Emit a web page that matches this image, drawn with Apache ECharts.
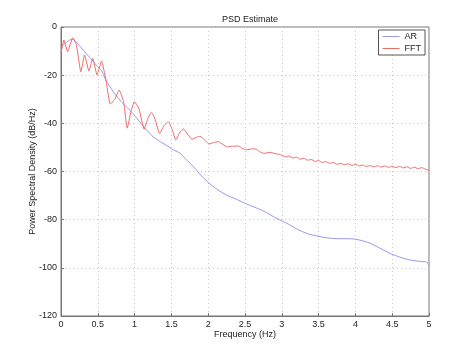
<!DOCTYPE html>
<html><head><meta charset="utf-8">
<script src="https://cdn.jsdelivr.net/npm/echarts@6/dist/echarts.min.js"></script>
<style>html,body{margin:0;padding:0;background:#fff}#c{width:474px;height:356px}</style>
</head><body><div id="c"></div>
<script>
const titleText = 'PSD Estimate';
const xLabel = 'Frequency (Hz)';
const yLabel = 'Power Spectral Density (dB/Hz)';
const seriesNames = ['AR', 'FFT'];

const arFreq = [0,0.05,0.1,0.15,0.2,0.3,0.4,0.5,0.55,0.6,0.68,0.75,0.82,0.9,0.98,1.06,1.14,1.25,1.35,1.5,1.62,1.7,1.8,1.9,2.0,2.1,2.25,2.39,2.52,2.66,2.79,2.9,3.0,3.1,3.21,3.35,3.48,3.6,3.75,3.9,4.0,4.1,4.2,4.3,4.47,4.6,4.75,4.9,4.97,5.0];
const arDb = [-8.5,-7,-5.8,-5.0,-6.0,-9.5,-13,-16.5,-18,-21.5,-25.5,-28.5,-31,-33.5,-36,-39,-42,-45.5,-47.6,-50.5,-52.5,-55,-58,-61.5,-64.5,-67,-69.8,-71.6,-73.5,-75.2,-77,-79,-80.5,-82,-84,-85.8,-86.8,-87.5,-87.9,-87.9,-88.1,-88.8,-89.8,-91.3,-94,-95.5,-96.8,-97.4,-97.6,-99.3];

const fftFreq = [0,0.04,0.09,0.16,0.21,0.27,0.32,0.38,0.43,0.49,0.55,0.61,0.67,0.73,0.79,0.85,0.90,0.95,1.0,1.06,1.13,1.18,1.23,1.28,1.34,1.40,1.46,1.51,1.56,1.61,1.66,1.72,1.78,1.84,1.89,1.95,2.01,2.07,2.14,2.20,2.26,2.33,2.41,2.47,2.52,2.59,2.66,2.71,2.76,2.84,2.91,2.98,3.05,3.10,3.15,3.20,3.25,3.30,3.35,3.40,3.45,3.50,3.55,3.60,3.65,3.70,3.75,3.80,3.85,3.90,3.95,4.00,4.05,4.10,4.15,4.20,4.25,4.30,4.35,4.40,4.45,4.50,4.55,4.60,4.65,4.70,4.75,4.80,4.85,4.90,4.95,5.00];
const fftDb = [-10.9,-5.4,-10.2,-4.5,-7.5,-18.6,-11.6,-18.3,-13,-19.9,-14.1,-22,-32,-30,-26.2,-31,-42,-35,-31,-34,-42.5,-38,-35.4,-38.5,-44.2,-41,-39.3,-42.5,-46.9,-44,-42.3,-44.5,-46.6,-45.8,-45.4,-46.8,-48.6,-48,-47.6,-48.8,-49.8,-49.5,-49.4,-50.5,-51,-50.6,-50.8,-52,-52.5,-52,-52.6,-53,-53.9,-53.6,-54.4,-54.0,-54.9,-54.5,-55.3,-55.0,-55.8,-55.5,-56.2,-55.9,-56.6,-56.3,-57.0,-56.6,-57.2,-56.8,-57.5,-57.0,-57.7,-57.3,-57.9,-57.5,-58.1,-57.6,-58.2,-57.7,-58.3,-57.8,-58.4,-57.9,-58.5,-58.0,-58.7,-58.2,-58.8,-58.4,-59.0,-59.6];

const xMin = 0, xMax = 5, xStep = 0.5;
const yMin = -120, yMax = 0, yStep = 20;

const font = 'Liberation Sans, Arial, sans-serif';
const txt = '#222';
const arColor = '#9a9af0';
const fftColor = '#f06a6a';
const chart = echarts.init(document.getElementById('c'), null, {renderer: 'canvas'});
const pairs = (xs, ys) => xs.map((x, i) => [x, ys[i]]);
const splitLine = {show: true, lineStyle: {color: '#c8c8c8', type: [1, 3], width: 1}};
chart.setOption({
  animation: false,
  backgroundColor: '#fff',
  title: {text: titleText, left: 245, top: 10, textAlign: 'center',
    textStyle: {fontFamily: font, fontSize: 9, fontWeight: 'normal', color: txt}},
  grid: {left: 61, right: 45, top: 27, bottom: 40, show: true, borderColor: '#777', borderWidth: 1},
  legend: {
    data: seriesNames, orient: 'vertical', right: 49, top: 30,
    itemWidth: 17, itemHeight: 1, itemGap: 3,
    backgroundColor: '#fff', borderColor: '#555', borderWidth: 1, padding: [2, 4, 2, 4],
    textStyle: {fontFamily: font, fontSize: 9, color: txt},
    icon: 'rect'
  },
  xAxis: [{
    type: 'value', min: xMin, max: xMax, interval: xStep,
    name: xLabel, nameLocation: 'middle', nameGap: 14, nameMoveOverlap: false,
    nameTextStyle: {fontFamily: font, fontSize: 9, color: txt},
    axisLine: {show: true, onZero: false, lineStyle: {color: '#777'}},
    axisTick: {show: true, inside: true, length: 3, lineStyle: {color: '#777'}},
    axisLabel: {fontFamily: font, fontSize: 9, color: txt, margin: 4},
    splitLine: splitLine
  }],
  yAxis: [{
    type: 'value', min: yMin, max: yMax, interval: yStep,
    name: yLabel, nameLocation: 'middle', nameGap: 24, nameMoveOverlap: false,
    nameTextStyle: {fontFamily: font, fontSize: 9, color: txt},
    axisLine: {show: true, lineStyle: {color: '#777'}},
    axisTick: {show: true, inside: true, length: 3, lineStyle: {color: '#777'}},
    axisLabel: {fontFamily: font, fontSize: 9, color: txt, margin: 4},
    splitLine: splitLine
  }],
  series: [
    {name: seriesNames[0], type: 'line', data: pairs(arFreq, arDb), showSymbol: false, smooth: 0.3,
     lineStyle: {color: arColor, width: 1}, itemStyle: {color: arColor}},
    {name: seriesNames[1], type: 'line', data: pairs(fftFreq, fftDb), showSymbol: false, smooth: 0.15,
     lineStyle: {color: fftColor, width: 1}, itemStyle: {color: fftColor}}
  ]
});
</script></body></html>
